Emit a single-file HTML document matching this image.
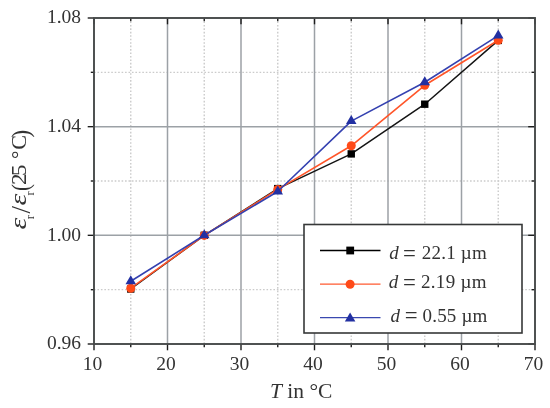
<!DOCTYPE html>
<html><head><meta charset="utf-8"><style>
html,body{margin:0;padding:0;background:#fff;}
body{width:550px;height:408px;overflow:hidden;}
svg{display:block;filter:blur(0.3px);}
</style></head><body>
<svg width="550" height="408" viewBox="0 0 550 408">
<rect x="0" y="0" width="550" height="408" fill="#ffffff"/>
<g stroke="#cbcbcb" stroke-width="1.4" stroke-dasharray="1.6 1.85"><line x1="130.75" y1="18.00" x2="130.75" y2="344.00"/><line x1="204.25" y1="18.00" x2="204.25" y2="344.00"/><line x1="277.75" y1="18.00" x2="277.75" y2="344.00"/><line x1="351.25" y1="18.00" x2="351.25" y2="344.00"/><line x1="424.75" y1="18.00" x2="424.75" y2="344.00"/><line x1="498.25" y1="18.00" x2="498.25" y2="344.00"/><line x1="94.00" y1="289.67" x2="535.00" y2="289.67"/><line x1="94.00" y1="181.00" x2="535.00" y2="181.00"/><line x1="94.00" y1="72.33" x2="535.00" y2="72.33"/></g>
<g stroke="#9ca1a6" stroke-width="1.5"><line x1="167.50" y1="18.00" x2="167.50" y2="344.00"/><line x1="241.00" y1="18.00" x2="241.00" y2="344.00"/><line x1="314.50" y1="18.00" x2="314.50" y2="344.00"/><line x1="388.00" y1="18.00" x2="388.00" y2="344.00"/><line x1="461.50" y1="18.00" x2="461.50" y2="344.00"/><line x1="94.00" y1="235.33" x2="535.00" y2="235.33"/><line x1="94.00" y1="126.67" x2="535.00" y2="126.67"/></g>
<polyline points="130.75,289.00 204.25,235.30 277.75,188.60 351.25,153.90 424.75,104.20 498.25,40.40" fill="none" stroke="#141414" stroke-width="1.5" stroke-linejoin="round"/>
<rect x="127.05" y="285.30" width="7.4" height="7.4" fill="#000000"/><rect x="200.55" y="231.60" width="7.4" height="7.4" fill="#000000"/><rect x="274.05" y="184.90" width="7.4" height="7.4" fill="#000000"/><rect x="347.55" y="150.20" width="7.4" height="7.4" fill="#000000"/><rect x="421.05" y="100.50" width="7.4" height="7.4" fill="#000000"/><rect x="494.55" y="36.70" width="7.4" height="7.4" fill="#000000"/>
<polyline points="130.75,288.20 204.25,235.40 277.75,189.40 351.25,145.80 424.75,85.30 498.25,40.30" fill="none" stroke="#ff5529" stroke-width="1.6" stroke-linejoin="round"/>
<circle cx="130.75" cy="288.20" r="4.5" fill="#ff4a18"/><circle cx="204.25" cy="235.40" r="4.5" fill="#ff4a18"/><circle cx="277.75" cy="189.40" r="4.5" fill="#ff4a18"/><circle cx="351.25" cy="145.80" r="4.5" fill="#ff4a18"/><circle cx="424.75" cy="85.30" r="4.5" fill="#ff4a18"/><circle cx="498.25" cy="40.30" r="4.5" fill="#ff4a18"/>
<polyline points="130.75,281.20 204.25,235.30 277.75,191.50 351.25,121.10 424.75,82.30 498.25,35.60" fill="none" stroke="#3441b0" stroke-width="1.6" stroke-linejoin="round"/>
<polygon points="130.75,275.20 136.00,284.20 125.50,284.20" fill="#2230a2"/><polygon points="204.25,229.30 209.50,238.30 199.00,238.30" fill="#2230a2"/><polygon points="277.75,185.50 283.00,194.50 272.50,194.50" fill="#2230a2"/><polygon points="351.25,115.10 356.50,124.10 346.00,124.10" fill="#2230a2"/><polygon points="424.75,76.30 430.00,85.30 419.50,85.30" fill="#2230a2"/><polygon points="498.25,29.60 503.50,38.60 493.00,38.60" fill="#2230a2"/>
<g stroke="#1e1e1e" stroke-width="1.4" fill="none" stroke-linecap="butt"><line x1="94.00" y1="344.0" x2="94.00" y2="350.3"/><line x1="94.00" y1="18.0" x2="94.00" y2="24.3"/><line x1="167.50" y1="344.0" x2="167.50" y2="350.3"/><line x1="167.50" y1="18.0" x2="167.50" y2="24.3"/><line x1="241.00" y1="344.0" x2="241.00" y2="350.3"/><line x1="241.00" y1="18.0" x2="241.00" y2="24.3"/><line x1="314.50" y1="344.0" x2="314.50" y2="350.3"/><line x1="314.50" y1="18.0" x2="314.50" y2="24.3"/><line x1="388.00" y1="344.0" x2="388.00" y2="350.3"/><line x1="388.00" y1="18.0" x2="388.00" y2="24.3"/><line x1="461.50" y1="344.0" x2="461.50" y2="350.3"/><line x1="461.50" y1="18.0" x2="461.50" y2="24.3"/><line x1="535.00" y1="344.0" x2="535.00" y2="350.3"/><line x1="535.00" y1="18.0" x2="535.00" y2="24.3"/><line x1="130.75" y1="344.0" x2="130.75" y2="347.2"/><line x1="130.75" y1="18.0" x2="130.75" y2="21.2"/><line x1="204.25" y1="344.0" x2="204.25" y2="347.2"/><line x1="204.25" y1="18.0" x2="204.25" y2="21.2"/><line x1="277.75" y1="344.0" x2="277.75" y2="347.2"/><line x1="277.75" y1="18.0" x2="277.75" y2="21.2"/><line x1="351.25" y1="344.0" x2="351.25" y2="347.2"/><line x1="351.25" y1="18.0" x2="351.25" y2="21.2"/><line x1="424.75" y1="344.0" x2="424.75" y2="347.2"/><line x1="424.75" y1="18.0" x2="424.75" y2="21.2"/><line x1="498.25" y1="344.0" x2="498.25" y2="347.2"/><line x1="498.25" y1="18.0" x2="498.25" y2="21.2"/><line x1="87.7" y1="344.00" x2="94.0" y2="344.00"/><line x1="528.2" y1="344.00" x2="535.0" y2="344.00"/><line x1="87.7" y1="235.33" x2="94.0" y2="235.33"/><line x1="528.2" y1="235.33" x2="535.0" y2="235.33"/><line x1="87.7" y1="126.67" x2="94.0" y2="126.67"/><line x1="528.2" y1="126.67" x2="535.0" y2="126.67"/><line x1="87.7" y1="18.00" x2="94.0" y2="18.00"/><line x1="528.2" y1="18.00" x2="535.0" y2="18.00"/><line x1="90.8" y1="289.67" x2="94.0" y2="289.67"/><line x1="531.5" y1="289.67" x2="535.0" y2="289.67"/><line x1="90.8" y1="181.00" x2="94.0" y2="181.00"/><line x1="531.5" y1="181.00" x2="535.0" y2="181.00"/><line x1="90.8" y1="72.33" x2="94.0" y2="72.33"/><line x1="531.5" y1="72.33" x2="535.0" y2="72.33"/></g>
<rect x="94.0" y="18.0" width="441.0" height="326.0" fill="none" stroke="#474a4a" stroke-width="1.9"/>
<g font-family="'Liberation Serif', serif" font-size="19.5" fill="#333333"><text x="81" y="349.20" text-anchor="end">0.96</text><text x="81" y="240.53" text-anchor="end">1.00</text><text x="81" y="131.87" text-anchor="end">1.04</text><text x="81" y="23.20" text-anchor="end">1.08</text><text x="92.50" y="370.0" text-anchor="middle">10</text><text x="166.00" y="370.0" text-anchor="middle">20</text><text x="239.50" y="370.0" text-anchor="middle">30</text><text x="313.00" y="370.0" text-anchor="middle">40</text><text x="386.50" y="370.0" text-anchor="middle">50</text><text x="460.00" y="370.0" text-anchor="middle">60</text><text x="533.50" y="370.0" text-anchor="middle">70</text></g>
<text font-family="'Liberation Serif', serif" font-size="21.5" fill="#333333" x="270" y="398.2"><tspan font-style="italic">T</tspan> in °C</text>
<g font-family="'Liberation Serif', serif" font-size="21" fill="#333333" transform="translate(26.4,229) rotate(-90)"><text transform="translate(-0.6,0) scale(1.32,1)" font-style="italic" font-size="22.5">ε</text><text x="9.8" y="7.6" font-size="12.5">r</text><text x="15.6" y="3.2" font-size="27">/</text><text transform="translate(23.6,0) scale(1.32,1)" font-style="italic" font-size="22.5">ε</text><text x="33.4" y="7.6" font-size="12.5">r</text><text transform="translate(38.0,2.2) scale(1.0,1.15)">(</text><text transform="translate(44.0,0) scale(1.12,1)" font-size="20.5">2</text><text transform="translate(53.0,0) scale(1.12,1)" font-size="20.5">5</text><text x="70" y="0">°</text><text transform="translate(79.3,0) scale(1.05,1)">C</text><text transform="translate(91.6,2.2) scale(1.1,1.15)">)</text></g>
<rect x="304.0" y="224.5" width="218.0" height="108.5" fill="#ffffff" stroke="#363838" stroke-width="1.6"/>
<line x1="320" y1="250.5" x2="380.5" y2="250.5" stroke="#000000" stroke-width="1.3"/>
<rect x="346.30" y="246.60" width="7.8" height="7.8" fill="#000000"/>
<g font-family="'Liberation Serif', serif" font-size="19" fill="#333333"><text x="389.30" y="259.4" font-style="italic">d</text><text transform="translate(403.10,261.80) scale(1.2,1.3)">=</text><text x="421.70" y="259.4" textLength="65.10" lengthAdjust="spacing">22.1 µm</text></g>
<line x1="320" y1="284.2" x2="380.5" y2="284.2" stroke="#ff5a30" stroke-width="1.3"/>
<circle cx="350.10" cy="284.20" r="4.5" fill="#ff4a18"/>
<g font-family="'Liberation Serif', serif" font-size="19" fill="#333333"><text x="388.80" y="288.4" font-style="italic">d</text><text transform="translate(403.00,290.80) scale(1.2,1.3)">=</text><text x="420.90" y="288.4" textLength="65.70" lengthAdjust="spacing">2.19 µm</text></g>
<line x1="320" y1="317.7" x2="380.5" y2="317.7" stroke="#3a48b0" stroke-width="1.3"/>
<polygon points="350.10,312.40 355.35,321.40 344.85,321.40" fill="#2230a2"/>
<g font-family="'Liberation Serif', serif" font-size="19" fill="#333333"><text x="390.40" y="321.9" font-style="italic">d</text><text transform="translate(404.80,324.30) scale(1.2,1.3)">=</text><text x="422.60" y="321.9" textLength="64.70" lengthAdjust="spacing">0.55 µm</text></g>
</svg>
</body></html>
